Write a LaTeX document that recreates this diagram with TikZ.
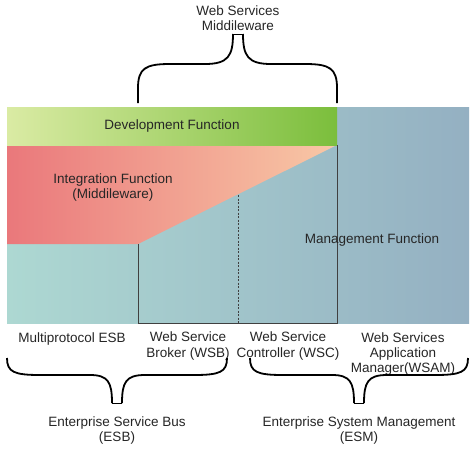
\documentclass[tikz,border=0pt]{standalone}
\usepackage{fontspec}
\setmainfont{Liberation Sans}
\definecolor{txt}{HTML}{262626}
\definecolor{bgL}{HTML}{ADD8D2}
\definecolor{bgR}{HTML}{94B0C2}
\definecolor{redL}{HTML}{EA787B}
\definecolor{redR}{HTML}{F8C8A6}
\definecolor{grnL}{HTML}{DAEBA4}
\definecolor{grnR}{HTML}{7BBE3C}
\tikzset{
  lbl/.style={align=center, text=txt, inner sep=0pt, font=\fontsize{13.5}{15}\selectfont},
  brace/.style={line width=1.8pt, black, line join=round},
  boxline/.style={line width=0.8pt, draw=black!75},
}
\begin{document}
\begin{tikzpicture}[x=1pt,y=-1pt]
\useasboundingbox (0,0) rectangle (476,455);
\fill[white] (0,0) rectangle (476,455);
% background
\shade[left color=bgL, right color=bgR] (7,107) rectangle (469,323);
% integration (red)
\shade[left color=redL, right color=redR] (7,145) -- (337,145) -- (138,244) -- (7,244) -- cycle;
% development (green)
\shade[left color=grnL, right color=grnR] (7,107) rectangle (337,145);
% box lines
\draw[boxline] (138,244) -- (138,323) -- (337,323) -- (337,145);
\draw[boxline, dash pattern=on 2pt off 1.5pt] (238,195) -- (238,323);
% labels
\node[lbl] (wsm) at (238,18) {Web Services\\Middileware};
\node[lbl] (dev) at (172,126) {Development Function};
\node[lbl] (int) at (113,188) {Integration Function\\(Middileware)};
\node[lbl] (mgt) at (372,240) {Management Function};
\node[lbl] (mesb) at (72,339) {Multiprotocol ESB};
\node[lbl] (wsb) at (188,346) {Web Service\\Broker (WSB)};
\node[lbl] (wsc) at (288,346) {Web Service\\Controller (WSC)};
\node[lbl] (wsam) at (403,354) {Web Services\\Application\\Manager(WSAM)};
\node[lbl] (esb) at (117,430) {Enterprise Service Bus\\(ESB)};
\node[lbl] (esm) at (359,430) {Enterprise System Management\\(ESM)};
% top brace
\draw[brace] (138,103) -- (138,88) .. controls (138,68) and (146,64) .. (170,64)
  -- (205,64) .. controls (228,64) and (233,56) .. (233,34);
\draw[brace] (337,103) -- (337,88) .. controls (337,68) and (329,64) .. (305,64)
  -- (271,64) .. controls (248,64) and (243,56) .. (243,34);
\draw[line width=0.6pt] (233,34) -- (243,34);
% bottom left brace
\draw[brace] (7,358) .. controls (7,372) and (14,375) .. (40,375)
  -- (90,375) .. controls (108,375) and (112,382) .. (112,403);
\draw[brace] (227,358) .. controls (227,372) and (220,375) .. (194,375)
  -- (145,375) .. controls (126,375) and (122,382) .. (122,403);
\draw[line width=0.6pt] (112,403) -- (122,403);
% bottom right brace
\draw[brace] (250,358) .. controls (250,372) and (257,375) .. (283,375)
  -- (332,375) .. controls (350,375) and (354,382) .. (354,403);
\draw[brace] (468,358) .. controls (468,372) and (461,375) .. (435,375)
  -- (387,375) .. controls (368,375) and (364,382) .. (364,403);
\draw[line width=0.6pt] (354,403) -- (364,403);
\end{tikzpicture}
\end{document}
